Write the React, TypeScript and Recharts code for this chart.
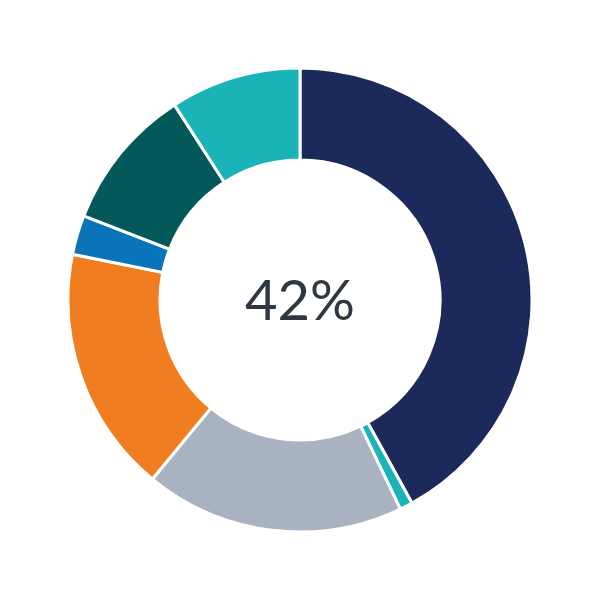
import React from "react";
import { PieChart, Pie, Cell, Label } from "recharts";

const categories = ["A", "B", "C", "D", "E", "F", "G"];
const values = [42, 0.9, 18.1, 17.2, 2.75, 10, 9.1];
const colors = ["#1b2a5a", "#1ab4b8", "#a8b2c0", "#f07d1f", "#0a74b8", "#03585a", "#1ab4b8"];
const centerLabel = "42%";

const data = categories.map((name, i) => ({ name, value: values[i] }));

export default function App() {
  return (
    <div style={{ width: 600, height: 600, margin: -8, background: "#fff" }}>
      <PieChart width={600} height={600} margin={{ top: 0, right: 0, bottom: 0, left: 0 }}>
        <Pie
          data={data}
          dataKey="value"
          nameKey="name"
          cx={300}
          cy={300}
          innerRadius={140}
          outerRadius={232}
          startAngle={90}
          endAngle={-270}
          stroke="#ffffff"
          strokeWidth={3}
          isAnimationActive={false}
        >
          {data.map((d, i) => (
            <Cell key={d.name} fill={colors[i]} />
          ))}
          <Label
            value={centerLabel}
            position="center"
            fill="#2f3842"
            style={{ fontFamily: "Lato, 'Open Sans', sans-serif", fontSize: 56, fontWeight: 400 }}
          />
        </Pie>
      </PieChart>
    </div>
  );
}
